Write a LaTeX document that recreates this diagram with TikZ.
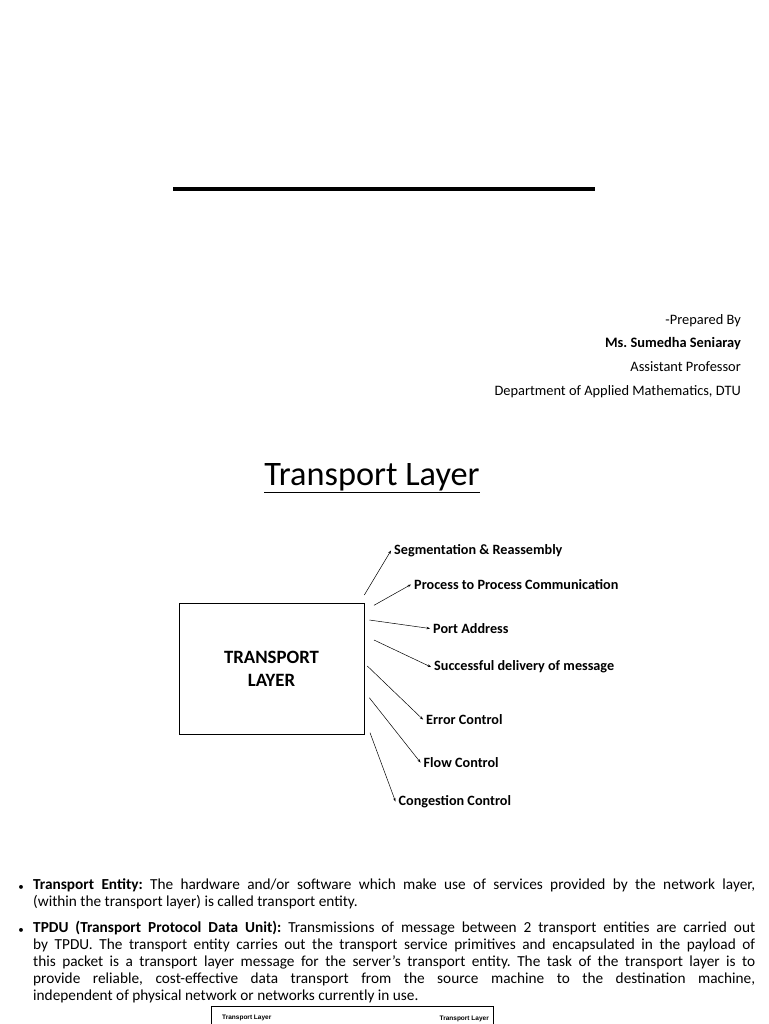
\documentclass[tikz,border=0pt]{standalone}
\usepackage{fontspec}
\setmainfont{Carlito}
\newfontfamily\arialf{Liberation Sans}
\usetikzlibrary{arrows.meta}
\begin{document}
\frenchspacing
\begin{tikzpicture}[x=1pt,y=-1pt,
  lbl/.style={anchor=west,inner sep=3pt,font=\fontsize{14.2}{16}\selectfont\bfseries},
  arr/.style={-{Stealth[length=3.5pt,width=2.5pt]},line width=0.5pt},
  hdr/.style={anchor=base east,inner sep=0pt,font=\fontsize{14.4}{16}\selectfont\frenchspacing},
  bodytxt/.style={anchor=north west,inner sep=0pt,text width=722pt,align=justify,font=\fontsize{15.3}{17}\selectfont\frenchspacing},
  bul/.style={anchor=base,inner sep=0pt,font=\fontsize{11}{12}\selectfont}]
\useasboundingbox (0,0) rectangle (768,1024);
\fill[white] (0,0) rectangle (768,1024);
% top rule
\coordinate (ruleL) at (173,189);
\coordinate (ruleR) at (595,189);
\draw[line width=4pt] (ruleL) -- (ruleR);
% header
\node[hdr] (prep) at (741,324) {-Prepared By};
\node[hdr,font=\fontsize{14.4}{16}\selectfont\bfseries\frenchspacing] (name) at (741,347) {Ms. Sumedha Seniaray};
\node[hdr] (pos) at (741,371) {Assistant Professor};
\node[hdr] (dept) at (741,395) {Department of Applied Mathematics, DTU};
% title
\node[anchor=base,inner sep=0pt,font=\fontsize{34.3}{38}\selectfont] (title) at (372,485) {\underline{Transport Layer}};
% box
\node[draw,line width=0.8pt,minimum width=185pt,minimum height=131pt,inner sep=0pt,align=center,
  font=\fontsize{18.8}{22}\selectfont\bfseries] (tl) at (271.5,668.5) {TRANSPORT\\[1pt]LAYER};
% labels
\node[lbl] (l1) at (391,550.5) {Segmentation \& Reassembly};
\node[lbl] (l2) at (411,584.5) {Process to Process Communication};
\node[lbl] (l3) at (430,628.5) {Port Address};
\node[lbl] (l4) at (431,667) {Successful delivery of message};
\node[lbl] (l5) at (423,719.5) {Error Control};
\node[lbl] (l6) at (420.5,762.5) {Flow Control};
\node[lbl] (l7) at (395.5,801.5) {Congestion Control};
% arrow starts
\coordinate (s1) at (364.3,595);
\coordinate (s2) at (374,605.3);
\coordinate (s3) at (369.3,620);
\coordinate (s4) at (374,640);
\coordinate (s5) at (367.3,666);
\coordinate (s6) at (369.3,697.7);
\coordinate (s7) at (370,732.7);
\draw[arr] (s1) -- (l1.west);
\draw[arr] (s2) -- (l2.west);
\draw[arr] (s3) -- (l3.west);
\draw[arr] (s4) -- (l4.west);
\draw[arr] (s5) -- (l5.west);
\draw[arr] (s6) -- (l6.west);
\draw[arr] (s7) -- (l7.west);
% bullets
\node[bul] (b1) at (21,890.5) {•};
\node[bul] (b2) at (21,933) {•};
\node[bodytxt] (p1) at (33,878.5) {\textbf{Transport Entity:} The hardware and/or software which make use of services provided by the network layer,\linebreak
(within the transport layer) is called transport entity.};
\node[bodytxt] (p2) at (33,921) {\textbf{TPDU (Transport Protocol Data Unit):} Transmissions of message between 2 transport entities are carried out\linebreak
by TPDU. The transport entity carries out the transport service primitives and encapsulated in the payload of\linebreak
this packet is a transport layer message for the server’s transport entity. The task of the transport layer is to\linebreak
provide reliable, cost-effective data transport from the source machine to the destination machine,\linebreak
independent of physical network or networks currently in use.};
% bottom figure
\coordinate (fbl) at (211,1030);
\coordinate (fbr) at (493,1030);
\coordinate (ftl) at (211,1006);
\coordinate (ftr) at (493,1006);
\draw[line width=0.8pt] (fbl) -- (ftl) -- (ftr) -- (fbr);
\node[anchor=base west,inner sep=0pt,font=\arialf\bfseries\fontsize{6.5}{7}\selectfont] (ft1) at (222,1019) {Transport Layer};
\node[anchor=base east,inner sep=0pt,font=\arialf\bfseries\fontsize{6.5}{7}\selectfont] (ft2) at (489,1020) {Transport Layer};
\end{tikzpicture}
\end{document}
